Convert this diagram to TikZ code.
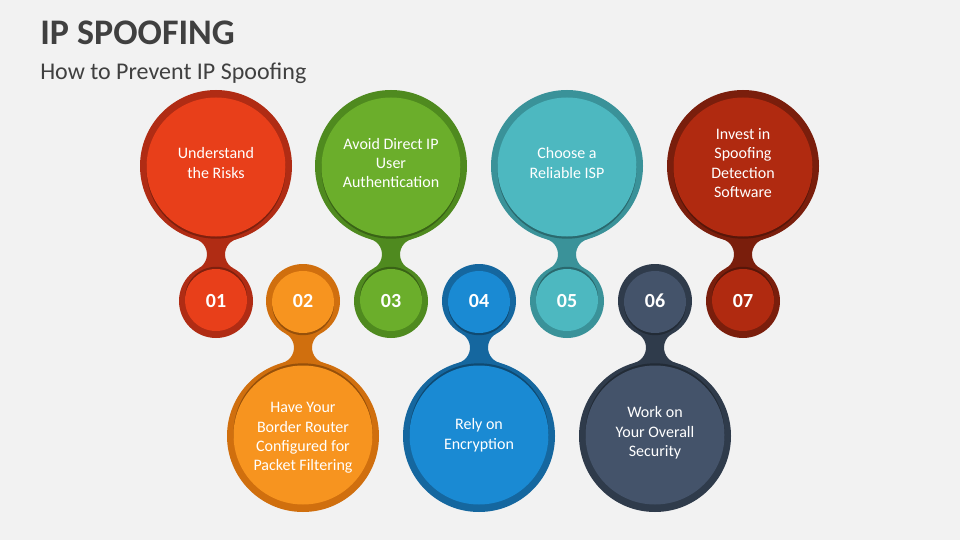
\documentclass[tikz,border=0pt]{standalone}
\usepackage{fontspec}
\setmainfont{Carlito}
\definecolor{bg}{HTML}{F2F2F2}
\definecolor{titlegray}{HTML}{404040}
\definecolor{ringA}{HTML}{B02C14}\definecolor{inA}{HTML}{E83F1A}
\definecolor{ringB}{HTML}{D06F0E}\definecolor{inB}{HTML}{F7941F}
\definecolor{ringC}{HTML}{4F8A1F}\definecolor{inC}{HTML}{6BAE2B}
\definecolor{ringD}{HTML}{15679F}\definecolor{inD}{HTML}{1A8AD3}
\definecolor{ringE}{HTML}{3A9299}\definecolor{inE}{HTML}{4DB8C0}
\definecolor{ringF}{HTML}{2F3B4B}\definecolor{inF}{HTML}{44536A}
\definecolor{ringG}{HTML}{7A1E0C}\definecolor{inG}{HTML}{B02A10}
\tikzset{
  bigtxt/.style={text=white, align=center, inner sep=0pt, font=\fontsize{12}{14.6}\selectfont},
  numtxt/.style={text=white, inner sep=0pt, font=\bfseries\fontsize{15}{18}\selectfont},
}
% #1 x, #2 y of big circle centre, #3 yscale (1: big on top, -1: big below), #4 colour letter, #5 number, #6 name
\newcommand\petal[6]{%
  \begin{scope}[shift={(#1,#2)}, yscale=#3]
    \fill[ring#4] (0,0) circle[radius=76] (0,-135) circle[radius=37];
    \fill[ring#4] (20.5,-73.2) arc[start angle=105.8, end angle=242, radius=15.8]
       -- (-17.4,-102.3) arc[start angle=-62, end angle=74.2, radius=15.8] -- cycle;
    \fill[ring#4!72!black] (0,-3.2) circle[radius=69.5];
    \fill[in#4] (0,-1) circle[radius=69.5];
    \fill[ring#4!72!black] (0,-131.8) circle[radius=31];
    \fill[in#4] (0,-134) circle[radius=31];
    \node[numtxt] (n#6) at (0,-135) {#5};
  \end{scope}}
\begin{document}
\begin{tikzpicture}[x=0.75pt,y=0.75pt]
\useasboundingbox (0,0) rectangle (960,540);
\fill[bg] (0,0) rectangle (960,540);
\node[anchor=base west, inner sep=0pt, text=titlegray, font=\bfseries\fontsize{27}{32}\selectfont] (title) at (40,495) {IP SPOOFING};
\node[anchor=base west, inner sep=0pt, text=titlegray, font=\fontsize{18}{22}\selectfont] (subtitle) at (40,460) {How to Prevent IP Spoofing};

\petal{216}{374}{1}{A}{01}{a}
\petal{303}{104}{-1}{B}{02}{b}
\petal{391}{374}{1}{C}{03}{c}
\petal{479}{104}{-1}{D}{04}{d}
\petal{567}{374}{1}{E}{05}{e}
\petal{655}{104}{-1}{F}{06}{f}
\petal{743}{374}{1}{G}{07}{g}

\node[bigtxt] (ta) at (216,377) {Understand\\the Risks};
\node[bigtxt] (tb) at (303,102) {Have Your\\Border Router\\Configured for\\Packet Filtering};
\node[bigtxt] (tc) at (391,377) {Avoid Direct IP\\User\\Authentication};
\node[bigtxt] (td) at (479,105) {Rely on\\Encryption};
\node[bigtxt] (te) at (567,377) {Choose a\\Reliable ISP};
\node[bigtxt] (tf) at (655,107) {Work on\\Your Overall\\Security};
\node[bigtxt] (tg) at (743,377) {Invest in\\Spoofing\\Detection\\Software};
\end{tikzpicture}
\end{document}
